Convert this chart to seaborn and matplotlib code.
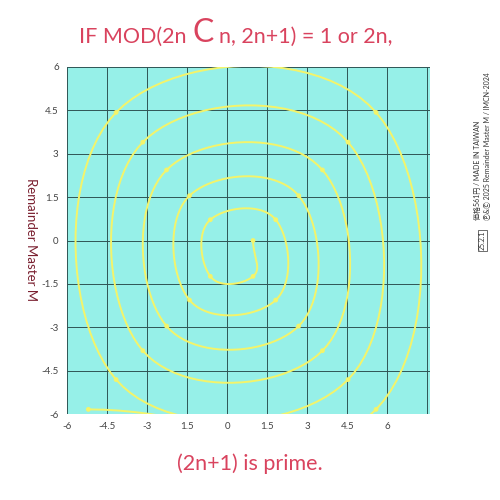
import numpy as np
import matplotlib
matplotlib.use('Agg')
import matplotlib.pyplot as plt
import seaborn as sns
import pandas as pd

# spiral corner points
spiral_x = [0.97, 0.97, -0.63, -0.63, 1.82, 1.82, -1.41, -1.41, 2.68, 2.68, -2.27, -2.27,
            3.57, 3.57, -3.16, -3.16, 4.53, 4.53, -4.16, -4.16, 5.58, 5.58, -5.2]
spiral_y = [0.0, -1.24, -1.24, 0.72, 0.72, -2.06, -2.06, 1.55, 1.55, -2.96, -2.96, 2.44,
            2.44, -3.81, -3.81, 3.40, 3.40, -4.81, -4.81, 4.43, 4.43, -5.84, -5.84]
tick_vals = [-6, -4.5, -3, -1.5, 0, 1.5, 3, 4.5, 6]
xtick_labels = ['-6', '-4.5', '-3', '1.5', '0', '1.5', '3', '4.5', '6']
ytick_labels = ['-6', '-4.5', '-3', '-1.5', '0', '1.5', '3', '4.5', '6']

RED = '#D9435E'
BG = '#96F0E8'
YEL = '#F4F46A'

sns.set_theme(style='white')
plt.rcParams['font.family'] = ['Lato', 'Noto Sans CJK JP', 'DejaVu Sans']


def smooth(xs, ys, k=0.66, n=24):
    # Hermite spline through the points, tangent scaled by k
    p = np.column_stack([xs, ys])
    p = np.vstack([2 * p[0] - p[1], p, 2 * p[-1] - p[-2]])
    out = []
    for i in range(1, len(p) - 2):
        p0, p1, p2, p3 = p[i - 1], p[i], p[i + 1], p[i + 2]
        m1 = k * (p2 - p0)
        m2 = k * (p3 - p1)
        for t in np.linspace(0, 1, n, endpoint=False):
            h00 = 2 * t**3 - 3 * t**2 + 1
            h10 = t**3 - 2 * t**2 + t
            h01 = -2 * t**3 + 3 * t**2
            h11 = t**3 - t**2
            out.append(h00 * p1 + h10 * m1 + h01 * p2 + h11 * m2)
    out.append(p[-2])
    return np.array(out)


fig = plt.figure(figsize=(5, 5), dpi=100)
fig.patch.set_facecolor('white')
ax = fig.add_axes([0.134, 0.172, 0.726, 0.694])
ax.set_facecolor(BG)

curve = smooth(spiral_x, spiral_y)
ax.plot(curve[:, 0], curve[:, 1], color=YEL, lw=1.4, zorder=3)
pts = pd.DataFrame({'x': spiral_x, 'y': spiral_y})
sns.scatterplot(data=pts, x='x', y='y', ax=ax, color=YEL, s=12, edgecolor='none', zorder=4)

ax.set_xlim(-6, 7.6)
ax.set_ylim(-6, 6)
ax.set_xticks(tick_vals + [7.5])
ax.set_xticklabels(xtick_labels + [''], fontsize=7, color='#444444')
ax.set_yticks(tick_vals)
ax.set_yticklabels(ytick_labels, fontsize=7, color='#444444')
ax.tick_params(length=0, pad=6)
ax.grid(True, color='#2f5555', lw=0.7)
ax.set_axisbelow(True)
for s in ax.spines.values():
    s.set_visible(False)
ax.set_xlabel('')
ax.set_ylabel('')
fig.text(0.062, 0.52, 'Remainder Master M', rotation=270, color='#7a2030', fontsize=9.5,
         ha='center', va='center')

# title with enlarged C
fig.text(0.158, 0.915, 'IF MOD(2n', color=RED, fontsize=15.5, ha='left', va='baseline')
fig.text(0.386, 0.915, 'C', color=RED, fontsize=23, ha='left', va='baseline')
fig.text(0.438, 0.915, 'n, 2n+1) = 1 or 2n,', color=RED, fontsize=15.5, ha='left', va='baseline')
fig.text(0.5, 0.06, '(2n+1) is prime.', color=RED, fontsize=15.5, ha='center', va='baseline')

fig.text(0.955, 0.56, '価格561円 / MADE IN TAIWAN', rotation=90, fontsize=5,
         ha='center', va='bottom', color='#333333')
fig.text(0.975, 0.56, 'Ⓟ&Ⓒ 2025 Remainder Master M / IMCN-2024', rotation=90, fontsize=5,
         ha='center', va='bottom', color='#333333')
fig.text(0.965, 0.50, '25.2.1', rotation=90, fontsize=5, ha='center', va='bottom',
         color='#333333', bbox=dict(boxstyle='square,pad=0.1', fc='white', ec='#333333', lw=0.5))

fig.savefig('out.png', dpi=100)
